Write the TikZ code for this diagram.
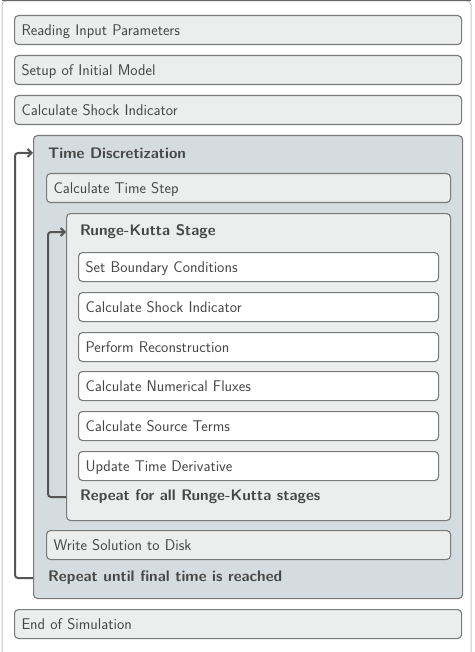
\documentclass[tikz,border=0pt]{standalone}
\usetikzlibrary{arrows.meta}
\definecolor{txt}{HTML}{474747}
\definecolor{edge}{HTML}{7A7A7A}
\definecolor{lightfill}{HTML}{ECEEEE}
\definecolor{tdfill}{HTML}{D4DCDF}
\definecolor{loopc}{HTML}{555555}
\tikzset{
  box/.style={draw=edge, line width=1.1pt, rounded corners=4pt, anchor=north west,
    minimum height=29pt, inner xsep=7pt, inner ysep=0pt, align=left,
    text=txt, font=\sffamily\fontsize{15.5}{17}\selectfont, text depth=0pt},
  topbox/.style={box, fill=lightfill, text width=433pt},
  midbox/.style={box, fill=lightfill, text width=390pt},
  innerbox/.style={box, fill=white, text width=346pt},
  container/.style={draw=edge, line width=1.1pt, rounded corners=4pt, anchor=north west, inner sep=0pt},
  title/.style={anchor=west, inner sep=0pt, text=txt, font=\sffamily\bfseries\fontsize{15.3}{17}\selectfont},
  loop/.style={draw=loopc, line width=2pt, rounded corners=3pt, -{Straight Barb[length=4pt,width=8pt]}},
}
\begin{document}
\begin{tikzpicture}[x=1pt,y=-1pt]
\useasboundingbox (0,0) rectangle (474,652);
\begin{scope}
\clip (0,0) rectangle (474,652);
\draw[gray!45, line width=1pt, rounded corners=4pt] (2,1) rectangle (471,665);
\draw[gray!80!black, line width=1.2pt] (2,0.6) -- (471,0.6);
\end{scope}

\node[topbox] (n1) at (14,15) {Reading Input Parameters};
\node[topbox] (n2) at (14,55) {Setup of Initial Model};
\node[topbox] (n3) at (14,95) {Calculate Shock Indicator};

\node[container, fill=tdfill, minimum width=429pt, minimum height=463pt] (td) at (33,135) {};
\node[title] (tdt) at (48,153) {Time Discretization};
\node[midbox] (ts) at (46,173) {Calculate Time Step};

\node[container, fill=lightfill, minimum width=384pt, minimum height=307pt] (rk) at (66,213) {};
\node[title] (rkt) at (80,232) {Runge-Kutta Stage};
\node[innerbox] (s1) at (78,252) {Set Boundary Conditions};
\node[innerbox] (s2) at (78,292) {Calculate Shock Indicator};
\node[innerbox] (s3) at (78,332) {Perform Reconstruction};
\node[innerbox] (s4) at (78,371) {Calculate Numerical Fluxes};
\node[innerbox] (s5) at (78,411) {Calculate Source Terms};
\node[innerbox] (s6) at (78,451) {Update Time Derivative};
\node[title] (rkr) at (80,497) {Repeat for all Runge-Kutta stages};

\node[midbox] (ws) at (46,530) {Write Solution to Disk};
\node[title] (tdr) at (48,578) {Repeat until final time is reached};

\node[topbox] (n4) at (14,609) {End of Simulation};

\coordinate (rkin) at (rk.west |- rkt.west);
\coordinate (rkout) at (rk.west |- rkr.west);
\draw[loop] (rkout) -| (48,0 |- rkt.west) -- (rkin);
\coordinate (tdin) at (td.west |- tdt.west);
\coordinate (tdout) at (td.west |- tdr.west);
\draw[loop] (tdout) -| (15,0 |- tdt.west) -- (tdin);
\end{tikzpicture}
\end{document}
